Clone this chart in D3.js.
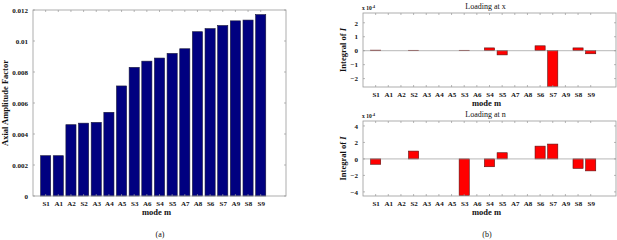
<!DOCTYPE html>
<html lang="en">
<head>
<meta charset="UTF-8">
<title>Axial amplitude and loading</title>
<script src="https://d3js.org/d3.v7.min.js"></script>
<style>
  body { margin: 0; background: #fff; }
  svg { display: block; }
  text { font-family: "Liberation Serif", "DejaVu Serif", serif; fill: #111; }
  .tick text { font-size: 7px; font-weight: bold; }
  .frame { fill: none; stroke: #999; stroke-width: 0.8px; }
  .tk { stroke: #999; stroke-width: 0.7px; }
  .lab { font-size: 8.5px; font-weight: bold; }
  .ttl { font-size: 8px; }
</style>
</head>
<body>
<svg width="617" height="240"></svg>
<script>
// modes, in the order shown on the axis
var modes = ["S1","A1","A2","S2","A3","A4","A5","S3","A6","S4","S5","A7","A8","S6","S7","A9","S8","S9"];

// (a) axial amplitude factor
var amplitude = [0.0026,0.0026,0.0046,0.0047,0.00475,0.0054,0.0071,0.0083,0.0087,0.0089,
                 0.0092,0.0095,0.0106,0.0108,0.0110,0.0113,0.01135,0.0117];

// (b) integral of I, units of 1e-4
var loadX = [0.04,0,0,0.03,0,0,0,0.03,0,0.2,-0.3,0,0,0.35,-2.55,0,0.2,-0.22];
var loadN = [-0.65,0,0,0.95,0,0,0,-4.45,0,-0.95,0.75,0,0,1.55,1.8,0,-1.15,-1.45];

var ampTicks = [0,0.002,0.004,0.006,0.008,0.01,0.012];
var loadXTicks = [-2,-1,0,1,2];
var loadNTicks = [-4,-2,0,2,4];

var svg = d3.select("svg");

function panel(o) {
    var x = d3.scaleLinear().domain([0, 20]).range([o.left, o.right]);
    var y = d3.scaleLinear().domain(o.ydom).range([o.bottom, o.top]);
    var g = svg.append("g");
    var bw = (x(0.8) - x(0));

    // bars
    g.selectAll("rect.bar").data(o.values).enter().append("rect")
        .attr("class", "bar")
        .attr("x", function(d, i) { return x(i + 1) - bw / 2; })
        .attr("width", bw)
        .attr("y", function(d) { return y(Math.max(0, d)); })
        .attr("height", function(d) { return Math.abs(y(d) - y(0)); })
        .attr("fill", o.color)
        .attr("stroke", o.edge)
        .attr("stroke-width", 0.6);

    if (o.baseline) {
        g.append("line").attr("class", "tk")
            .attr("x1", o.left).attr("x2", o.right)
            .attr("y1", y(0)).attr("y2", y(0));
    }

    g.append("rect").attr("class", "frame")
        .attr("x", o.left).attr("y", o.top)
        .attr("width", o.right - o.left).attr("height", o.bottom - o.top);

    // ticks inward on all four sides
    var xs = d3.range(1, o.values.length + 1);
    xs.forEach(function(v) {
        g.append("line").attr("class", "tk").attr("x1", x(v)).attr("x2", x(v)).attr("y1", o.bottom).attr("y2", o.bottom - 2);
        g.append("line").attr("class", "tk").attr("x1", x(v)).attr("x2", x(v)).attr("y1", o.top).attr("y2", o.top + 2);
    });
    o.yticks.forEach(function(v) {
        g.append("line").attr("class", "tk").attr("x1", o.left).attr("x2", o.left + 2).attr("y1", y(v)).attr("y2", y(v));
        g.append("line").attr("class", "tk").attr("x1", o.right).attr("x2", o.right - 2).attr("y1", y(v)).attr("y2", y(v));
    });

    // axes for labels only
    var ax = g.append("g").attr("transform", "translate(0," + o.bottom + ")")
        .call(d3.axisBottom(x).tickValues(xs).tickFormat(function(d) { return modes[d - 1]; }).tickSize(0).tickPadding(5));
    ax.select(".domain").remove();
    var ay = g.append("g").attr("transform", "translate(" + o.left + ",0)")
        .call(d3.axisLeft(y).tickValues(o.yticks).tickFormat(o.yfmt).tickSize(0).tickPadding(5));
    ay.select(".domain").remove();

    g.append("text").attr("class", "lab")
        .attr("x", (o.left + o.right) / 2 - 3).attr("y", o.bottom + 19)
        .attr("text-anchor", "middle").text("mode m");
    var yl = g.append("text").attr("class", "lab")
        .attr("transform", "translate(" + o.ylabX + "," + ((o.top + o.bottom) / 2) + ") rotate(-90)")
        .attr("text-anchor", "middle").text(o.ylabel);
    if (o.ylabelIt) yl.append("tspan").style("font-style", "italic").text(o.ylabelIt);

    if (o.title) {
        g.append("text").attr("class", "ttl")
            .attr("x", (o.left + o.right) / 2 - 4).attr("y", o.top - 4)
            .attr("text-anchor", "middle").text(o.title);
        var ex = g.append("text").attr("x", o.left - 1).attr("y", o.top - 3)
            .style("font-size", "5.5px").style("font-weight", "bold");
        ex.append("tspan").text("x 10");
        ex.append("tspan").attr("dy", -2.5).style("font-size", "4px").text("-4");
    }
}

panel({ left: 33, right: 286, top: 10, bottom: 196, ydom: [0, 0.012], values: amplitude,
        yticks: ampTicks, yfmt: function(d) { return d === 0 ? "0" : String(+d.toFixed(3)); },
        color: "#000080", edge: "#1a1a3a", baseline: false,
        ylabel: "Axial Amplitude Factor", ylabX: 8 });

panel({ left: 363, right: 616, top: 13, bottom: 87, ydom: [-2.6, 2.7], values: loadX,
        yticks: loadXTicks, yfmt: d3.format("d"),
        color: "#ff0000", edge: "#5a1010", baseline: true, title: "Loading at x",
        ylabel: "Integral of ", ylabelIt: "I", ylabX: 346 });

panel({ left: 363, right: 616, top: 121, bottom: 196, ydom: [-4.5, 4.6], values: loadN,
        yticks: loadNTicks, yfmt: d3.format("d"),
        color: "#ff0000", edge: "#5a1010", baseline: true, title: "Loading at n",
        ylabel: "Integral of ", ylabelIt: "I", ylabX: 346 });

svg.append("text").attr("class", "ttl").attr("x", 160).attr("y", 237).attr("text-anchor", "middle").text("(a)");
svg.append("text").attr("class", "ttl").attr("x", 487).attr("y", 237).attr("text-anchor", "middle").text("(b)");
</script>
</body>
</html>
